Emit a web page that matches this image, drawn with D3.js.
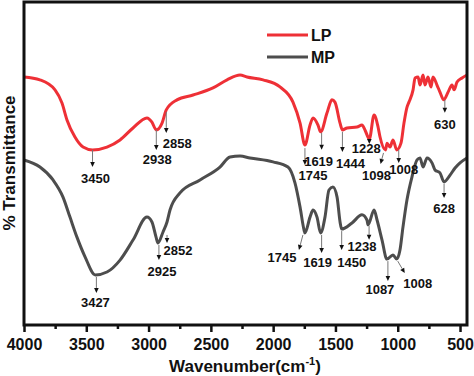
<!DOCTYPE html>
<html><head><meta charset="utf-8">
<script src="https://cdn.jsdelivr.net/npm/d3@7"></script>
<style>
body{margin:0;background:#fff;}
svg{display:block;}
text{font-family:"Liberation Sans",Arial,sans-serif;font-weight:bold;fill:#111;}
</style></head>
<body>
<svg id="c" width="474" height="376"></svg>
<script>
// ---- data ----
const seriesNames = ["LP", "MP"];
const lpWavenumber = [4000,3872,3751,3695,3655,3591,3526,3450,3334,3229,3125,3013,2973,2938,2892,2858,2772,2643,2483,2370,2266,2210,2081,1945,1841,1784,1745,1704,1680,1640,1619,1568,1528,1504,1463,1444,1407,1327,1287,1263,1228,1190,1158,1142,1098,1086,1062,1038,1008,974,950,926,910,877,861,837,821,797,781,757,733,717,685,661,630,596,564,548,524,484,444];
const lpTransmittance = [76.8,75.9,72.8,68.7,63.5,58.2,55.1,54.2,55.1,57.3,61.0,64.1,62.8,60.4,62.5,66.6,69.7,71.2,73.4,75.9,77.4,76.8,75.9,73.7,69.0,62.5,55.7,61.9,64.1,61.9,59.8,65.6,69.7,69.0,62.5,60.4,61.0,61.3,61.9,60.4,57.6,65.0,61.3,58.2,54.2,56.3,55.1,57.3,54.2,56.3,62.5,67.4,69.0,72.8,76.5,76.8,74.3,77.4,74.3,76.8,73.7,76.8,74.3,72.1,69.7,72.1,74.3,72.8,75.2,76.5,77.4];
const mpWavenumber = [4000,3872,3767,3687,3631,3575,3510,3427,3334,3229,3125,3013,2973,2940,2925,2884,2852,2828,2748,2587,2427,2346,2266,2186,2001,1881,1825,1784,1752,1745,1704,1680,1648,1619,1584,1552,1520,1487,1463,1450,1367,1287,1247,1238,1190,1166,1126,1087,1038,1008,982,958,926,886,845,821,797,765,725,701,661,628,580,540,500,444];
const mpTransmittance = [51.1,48.9,44.9,39.6,33.4,27.2,21.1,15.5,16.4,20.1,26.3,33.4,31.9,27.2,25.4,28.8,31.9,35.6,40.9,44.9,48.9,52.0,52.3,51.7,50.5,48.9,44.0,36.5,29.4,28.5,33.4,35.6,33.4,28.5,33.4,41.8,42.7,39.6,31.9,29.7,31.6,34.1,32.5,31.0,35.6,32.5,26.3,20.4,21.7,20.4,23.2,30.3,38.7,45.8,51.1,51.7,48.9,51.7,50.2,48.0,47.1,44.3,46.4,48.6,50.2,51.7];
const lpPeaks = [3450,2938,2858,1745,1619,1444,1228,1098,1008,630];
const mpPeaks = [3427,2925,2852,1745,1619,1450,1238,1087,1008,628];
const xTickValues = [4000,3500,3000,2500,2000,1500,1000,500];
const xMinorTicks = [3750,3250,2750,2250,1750,1250,750];
const xDomain = [4000, 444];
const yDomain = [0, 100];

// ---- label layout (pixel offsets relative to the peak point) ----
const lpLayout = [
 {sx:0,sy:0,tx:0,ty:17,lx:3,ly:28},
 {sx:0,sy:0,tx:0,ty:20,lx:1,ly:29},
 {sx:0,sy:2,tx:0,ty:23,lx:11,ly:33},
 {sx:0,sy:3,tx:0,ty:20,lx:8,ly:30},
 {sx:1,sy:1,tx:1,ty:18,lx:-2,ly:29},
 {sx:0,sy:2,tx:0,ty:22,lx:8,ly:33},
 {sx:0,sy:0,tx:0,ty:5,lx:-3,ly:9},
 {sx:-2,sy:3,tx:-5,ty:14,lx:-9,ly:25},
 {sx:2,sy:0,tx:2,ty:13,lx:7,ly:19},
 {sx:1,sy:0,tx:1,ty:13,lx:1,ly:24}
];
const mpLayout = [
 {sx:1,sy:2,tx:1,ty:18,lx:0,ly:27},
 {sx:1,sy:2,tx:1,ty:17,lx:4,ly:28},
 {sx:0,sy:13,tx:0,ty:21,lx:11,ly:28},
 {sx:-2,sy:2,tx:-6,ty:17,lx:-23,ly:24},
 {sx:1,sy:2,tx:1,ty:20,lx:-3,ly:29},
 {sx:0,sy:2,tx:0,ty:21,lx:10,ly:33},
 {sx:1,sy:1,tx:1,ty:15,lx:-6,ly:21},
 {sx:1,sy:2,tx:1,ty:22,lx:-7,ly:30},
 {sx:1,sy:2,tx:8,ty:14,lx:21,ly:24},
 {sx:0,sy:2,tx:0,ty:16,lx:0,ly:26}
];

const colors = {LP:"#ee3036", MP:"#4d4d4d"};
const plot = {left:24, right:467, top:2, bottom:325};

const svg = d3.select("#c");
const x = d3.scaleLinear().domain(xDomain).range([plot.left, plot.right]);
const y = d3.scaleLinear().domain(yDomain).range([plot.bottom, plot.top]);

const series = [
  {name:"LP", wn:lpWavenumber, t:lpTransmittance, peaks:lpPeaks, layout:lpLayout},
  {name:"MP", wn:mpWavenumber, t:mpTransmittance, peaks:mpPeaks, layout:mpLayout}
];

const line = d3.line().x(d=>x(d[0])).y(d=>y(d[1])).curve(d3.curveMonotoneX);

// curves
series.forEach(s=>{
  const pts = s.wn.map((w,i)=>[w, s.t[i]]);
  svg.append("path").datum(pts)
    .attr("d", line).attr("fill","none")
    .attr("stroke", colors[s.name]).attr("stroke-width",3)
    .attr("stroke-linejoin","round");
});

// annotations
function valueAt(s, w){
  let best=0, bd=1e9;
  s.wn.forEach((v,i)=>{const d=Math.abs(v-w); if(d<bd){bd=d;best=i;}});
  return s.t[best];
}
const ann = svg.append("g");
series.forEach(s=>{
  s.peaks.forEach((p,i)=>{
    const L = s.layout[i];
    const px = x(p), py = y(valueAt(s,p));
    const x1=px+L.sx, y1=py+L.sy, x2=px+L.tx, y2=py+L.ty;
    const ang = Math.atan2(y2-y1, x2-x1);
    const hl=5, hw=2.3;
    const bx = x2 - hl*Math.cos(ang), by = y2 - hl*Math.sin(ang);
    ann.append("line").attr("x1",x1).attr("y1",y1).attr("x2",bx).attr("y2",by)
      .attr("stroke","#777").attr("stroke-width",1);
    ann.append("path")
      .attr("d", `M${x2},${y2}L${bx+hw*Math.sin(ang)},${by-hw*Math.cos(ang)}L${bx-hw*Math.sin(ang)},${by+hw*Math.cos(ang)}Z`)
      .attr("fill","#111");
    ann.append("text").attr("x",px+L.lx).attr("y",py+L.ly+5)
      .attr("text-anchor","middle").attr("font-size","13px").text(String(p));
  });
});

// frame
svg.append("rect").attr("x",plot.left).attr("y",plot.top)
  .attr("width",plot.right-plot.left).attr("height",plot.bottom-plot.top)
  .attr("fill","none").attr("stroke","#111").attr("stroke-width",3);

// x axis
const xAxis = d3.axisBottom(x).tickValues(xTickValues).tickSize(7).tickFormat(d3.format("d"));
const gx = svg.append("g").attr("transform",`translate(0,${plot.bottom})`).call(xAxis);
gx.select(".domain").remove();
gx.selectAll(".tick line").attr("stroke","#111").attr("stroke-width",2.5);
gx.selectAll(".tick text").attr("font-size","16px").attr("dy","0.95em").attr("fill","#111")
  .style("font-family","'Liberation Sans',Arial,sans-serif").style("font-weight","bold");
const gm = svg.append("g").attr("transform",`translate(0,${plot.bottom})`)
  .call(d3.axisBottom(x).tickValues(xMinorTicks).tickSize(4).tickFormat(""));
gm.select(".domain").remove();
gm.selectAll(".tick line").attr("stroke","#111").attr("stroke-width",2.5);

// axis titles
const xt = svg.append("text").attr("x",245).attr("y",372).attr("text-anchor","middle").attr("font-size","17px");
xt.append("tspan").text("Wavenumber(cm");
xt.append("tspan").attr("font-size","11px").attr("dy","-7").text("-1");
xt.append("tspan").attr("dy","7").text(")");

svg.append("text").attr("transform","translate(15,163) rotate(-90)")
  .attr("text-anchor","middle").attr("font-size","17px").text("% Transmittance");

// legend
const leg = svg.append("g");
seriesNames.forEach((n,i)=>{
  const ly = 35 + i*22;
  leg.append("line").attr("x1",267).attr("x2",308).attr("y1",ly).attr("y2",ly)
    .attr("stroke",colors[n]).attr("stroke-width",3);
  leg.append("text").attr("x",311).attr("y",ly+6).attr("font-size","16px").text(n);
});
</script>
</body></html>
